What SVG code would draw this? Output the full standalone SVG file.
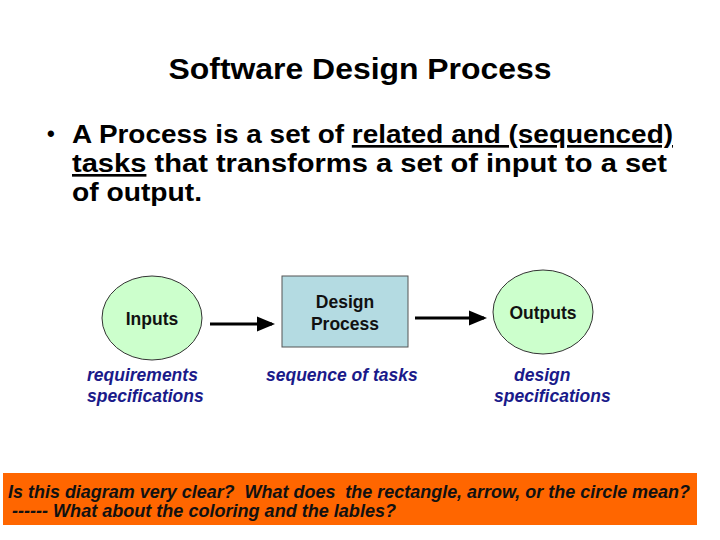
<svg xmlns="http://www.w3.org/2000/svg" width="720" height="540" viewBox="0 0 720 540">
<defs>
<style>
.t{font-family:"Liberation Sans",Arial,sans-serif;font-weight:bold;fill:#000}
.lbl{font-family:"Liberation Sans",Arial,sans-serif;font-weight:bold;font-style:italic;font-size:17.5px;fill:#1a1a8a}
.node{font-family:"Liberation Sans",Arial,sans-serif;font-weight:bold;font-size:17.5px;fill:#111;text-anchor:middle}
.ell{fill:#ccffcc;stroke:#333;stroke-width:1}
.conn{stroke:#000;stroke-width:3;fill:none;marker-end:url(#ah)}
.bar{font-family:"Liberation Sans",Arial,sans-serif;font-weight:bold;font-style:italic;font-size:18px;fill:#111;white-space:pre}
</style>
<marker id="ah" markerWidth="6" markerHeight="6" refX="5" refY="3" orient="auto" markerUnits="strokeWidth">
<path d="M0,0.5 L6,3 L0,5.5 z" fill="#000"/>
</marker>
</defs>
<rect width="720" height="540" fill="#fff"/>
<text class="t" x="360" y="79" font-size="30" text-anchor="middle" textLength="383" lengthAdjust="spacingAndGlyphs">Software Design Process</text>
<text class="t" x="47" y="141" font-size="22">•</text>
<text class="t" font-size="26.5">
<tspan x="72" y="143" textLength="601" lengthAdjust="spacingAndGlyphs">A Process is a set of <tspan text-decoration="underline">related and (sequenced)</tspan></tspan>
<tspan x="72" y="172" textLength="595" lengthAdjust="spacingAndGlyphs"><tspan text-decoration="underline">tasks</tspan> that transforms a set of input to a set</tspan>
<tspan x="72" y="201" textLength="130" lengthAdjust="spacingAndGlyphs">of output.</tspan>
</text>
<g id="connectors">
<line class="conn" x1="210" y1="324" x2="272" y2="324"/>
<line class="conn" x1="415" y1="318" x2="484" y2="318"/>
</g>
<g id="inputs">
<ellipse class="ell" cx="152" cy="318" rx="50" ry="42"/>
<text class="node" x="152" y="325">Inputs</text>
</g>
<g id="design-process">
<rect x="282" y="276" width="126" height="71" fill="#b4dbe2" stroke="#555" stroke-width="1"/>
<text class="node" x="345" y="308">Design</text>
<text class="node" x="345" y="330">Process</text>
</g>
<g id="outputs">
<ellipse class="ell" cx="543" cy="312" rx="50" ry="42"/>
<text class="node" x="543" y="319">Outputs</text>
</g>
<text class="lbl" x="87" y="381">requirements</text>
<text class="lbl" x="87" y="402">specifications</text>
<text class="lbl" x="266" y="381">sequence of tasks</text>
<text class="lbl" x="514" y="381">design</text>
<text class="lbl" x="494" y="402">specifications</text>
<rect x="3" y="473" width="694" height="52" fill="#ff6600"/>
<text class="bar" x="8" y="498" textLength="682" lengthAdjust="spacingAndGlyphs">Is this diagram very clear?  What does  the rectangle, arrow, or the circle mean?</text>
<text class="bar" x="12" y="517" textLength="384" lengthAdjust="spacingAndGlyphs">------ What about the coloring and the lables?</text>
</svg>
